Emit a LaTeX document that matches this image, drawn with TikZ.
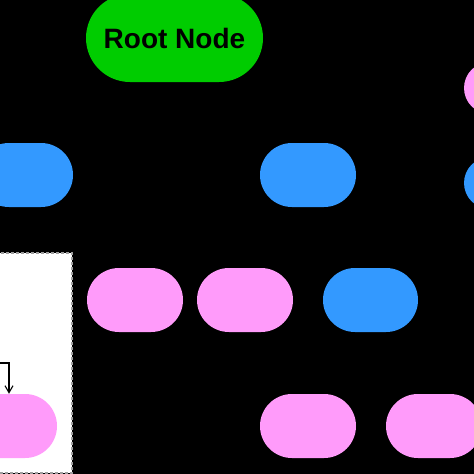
\documentclass[tikz,border=0pt]{standalone}
\usepackage{fontspec}
\setmainfont{Liberation Sans}
\usetikzlibrary{shapes.misc,arrows.meta}
\definecolor{rootgreen}{RGB}{0,204,0}
\definecolor{nodeblue}{RGB}{51,153,255}
\definecolor{nodepink}{RGB}{255,155,250}
\tikzset{
  pill/.style={shape=rounded rectangle, draw=none, inner sep=0pt, minimum width=96pt, minimum height=64pt},
  bluepill/.style={pill, fill=nodeblue},
  pinkpill/.style={pill, fill=nodepink},
  rootpill/.style={pill, fill=rootgreen, minimum width=177pt, minimum height=88pt, font=\bfseries\fontsize{28}{30}\selectfont},
  groupbox/.style={fill=white, draw=gray!75, line width=1.6pt, dash pattern=on 3pt off 2pt},
  linkarrow/.style={draw=black, line width=1.1pt, -{Straight Barb[length=7pt,width=8pt]}}
}
\begin{document}
\begin{tikzpicture}[x=1pt,y=-1pt]
\clip (0,0) rectangle (474,474);
\fill[black] (0,0) rectangle (474,474);
\node[rootpill] (root) at (174.5,38) {Root Node};
\node[bluepill] (b1) at (25,175) {};
\node[bluepill] (b2) at (308,175) {};
\node[pinkpill, minimum height=52pt] (pr) at (512,88) {};
\node[bluepill, minimum height=52pt] (br) at (512,183) {};
\node[pinkpill] (p1) at (135,300) {};
\node[pinkpill] (p2) at (245,300) {};
\node[bluepill, minimum width=95pt] (b3) at (370.5,300) {};
\path[groupbox] (-5,253) rectangle (72,473);
\node[pinkpill] (p5) at (9,426) {};
\node[pinkpill] (p3) at (308,426) {};
\node[pinkpill] (p4) at (434,426) {};
\coordinate (a0) at (0,363);
\draw[linkarrow] (a0) -| (p5.north);
\end{tikzpicture}
\end{document}
